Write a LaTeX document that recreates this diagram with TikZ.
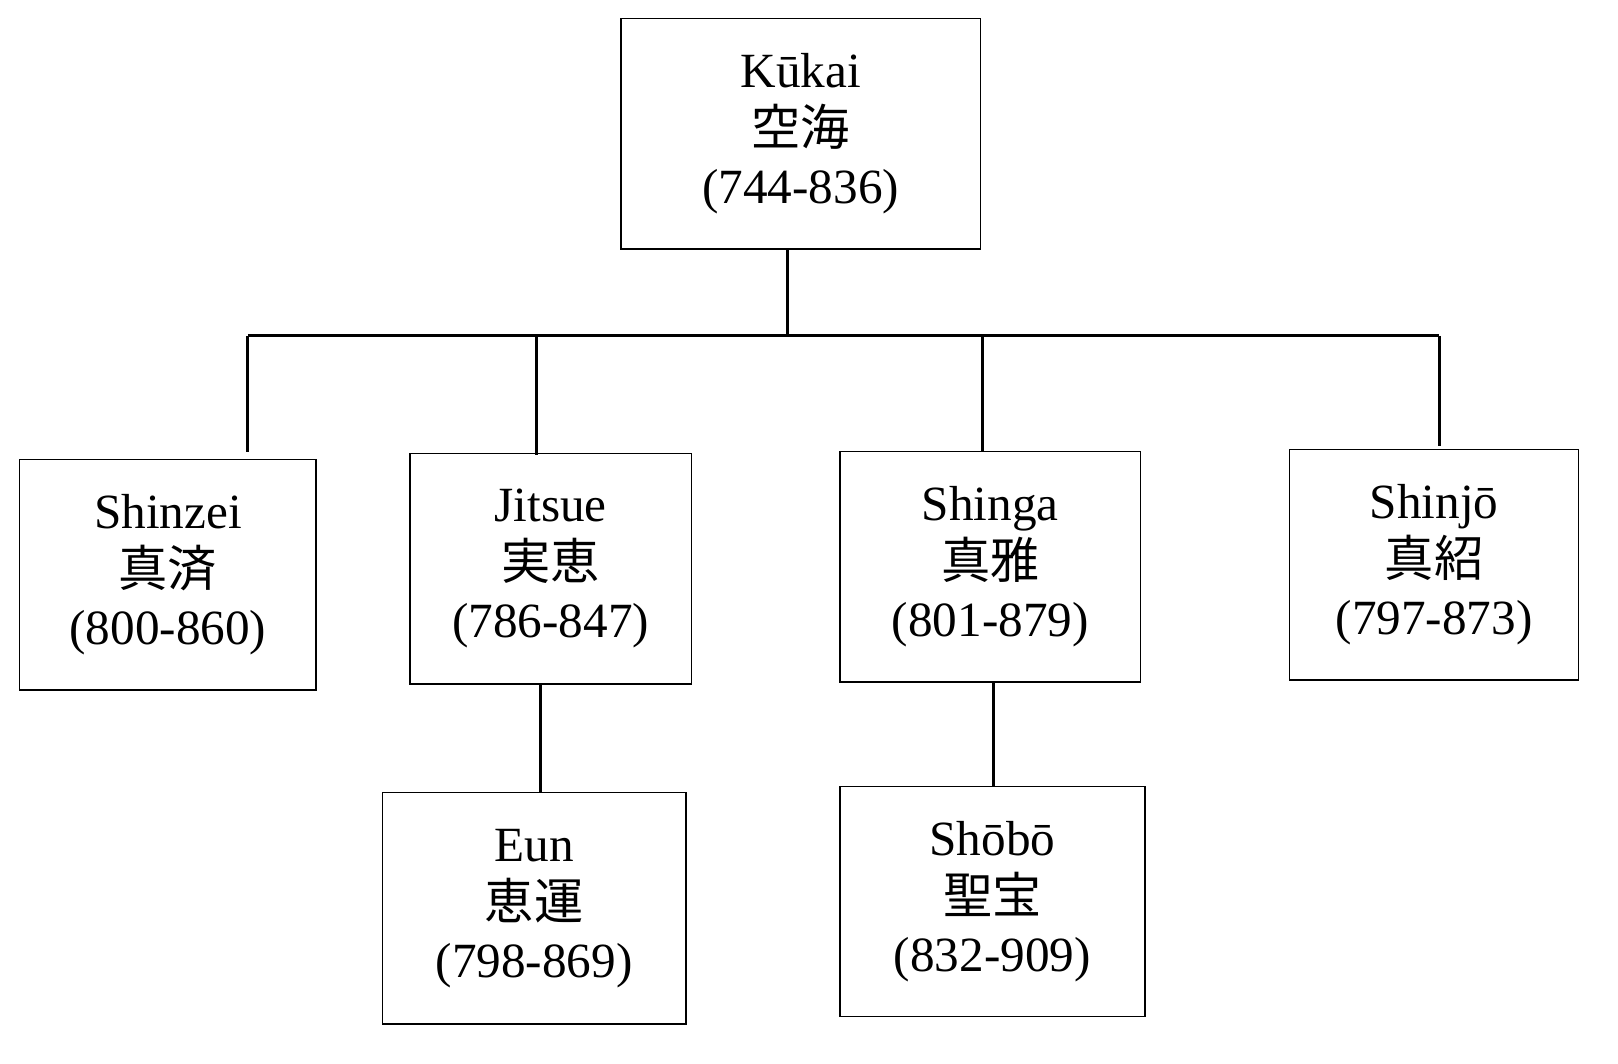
\documentclass[tikz,border=0pt]{standalone}
\usepackage{fontspec}
\setmainfont{Liberation Serif}
\newfontfamily\cjk{Noto Sans CJK JP}
\usetikzlibrary{calc}
\def\u{0.02066cm}
\tikzset{monk/.style={draw=black,thick,align=center,inner sep=0pt,font=\fontsize{28}{33}\selectfont},
	link/.style={line width=1.7pt}}
\newcommand{\monk}[3]{#1\\{\cjk #2}\\(#3)}
\begin{document}
\begin{tikzpicture}[x=\u,y=-\u]
	\useasboundingbox (0,0) rectangle (1566,1029);

	\node[monk,minimum width=348*\u,minimum height=223*\u] (kukai) at (775,129.5) {\monk{Kūkai}{空海}{744-836}};
	\node[monk,minimum width=287*\u,minimum height=223*\u] (shinzei) at (162.5,556.5) {\monk{Shinzei}{真済}{800-860}};
	\node[monk,minimum width=272*\u,minimum height=223*\u] (jitsue) at (533,550.5) {\monk{Jitsue}{実恵}{786-847}};
	\node[monk,minimum width=291*\u,minimum height=223*\u] (shinga) at (958.5,548.5) {\monk{Shinga}{真雅}{801-879}};
	\node[monk,minimum width=280*\u,minimum height=223*\u] (shinjo) at (1388,546.5) {\monk{Shinjō}{真紹}{797-873}};
	\node[monk,minimum width=294*\u,minimum height=224*\u] (eun) at (517,879) {\monk{Eun}{恵運}{798-869}};
	\node[monk,minimum width=295*\u,minimum height=223*\u] (shobo) at (960.5,872.5) {\monk{Shōbō}{聖宝}{832-909}};

	\coordinate (bar) at (762,325);
	\coordinate (barL) at (240,325);
	\coordinate (barR) at (1393,325);
	\draw[link] (kukai.south -| bar) -- (bar);
	\draw[link] (barL) -- (barR);
	\draw[link] (barL) -- ($(shinzei.north -| barL)+(0,-7)$);
	\draw[link] (519,325) -- (519,440);
	\draw[link] (951,325) -- (shinga.north -| 951,0);
	\draw[link] (barR) -- ($(shinjo.north -| barR)+(0,-3)$);
	\draw[link] (jitsue.south -| 523,0) -- (eun.north -| 523,0);
	\draw[link] (shinga.south -| 962,0) -- (shobo.north -| 962,0);

\end{tikzpicture}
\end{document}
